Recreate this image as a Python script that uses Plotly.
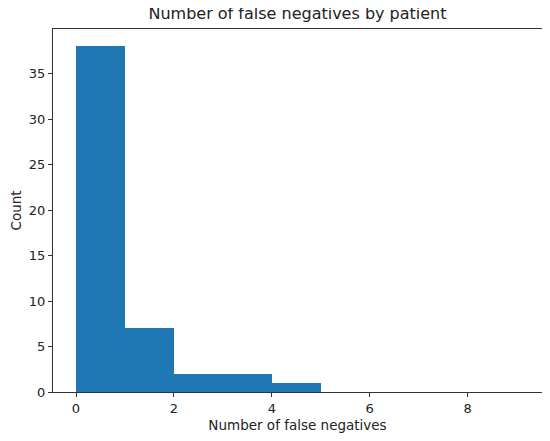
import plotly.graph_objects as go

bin_edges = [0, 1, 2, 3, 4, 5, 6, 7, 8, 9]
counts = [38, 7, 2, 2, 1, 0, 0, 0, 0]
x_ticks = [0, 2, 4, 6, 8]
y_ticks = [0, 5, 10, 15, 20, 25, 30, 35]

centers = [(a + b) / 2 for a, b in zip(bin_edges[:-1], bin_edges[1:])]
widths = [b - a for a, b in zip(bin_edges[:-1], bin_edges[1:])]

font = "DejaVu Sans"
W, H = 542, 433
fig = go.Figure(go.Bar(x=centers, y=counts, width=widths,
                       marker=dict(color="#1f77b4", line=dict(width=0))))

fig.update_layout(
    width=W, height=H,
    margin=dict(l=45, r=8, t=21, b=49),
    paper_bgcolor="white", plot_bgcolor="white",
    bargap=0, showlegend=False,
    font=dict(family=font, size=13, color="#222"),
    title=dict(text="Number of false negatives by patient", x=289.5 / W,
               xanchor="center", xref="container", y=1, yref="container",
               yanchor="top", pad=dict(t=0, b=0, l=0, r=0),
               font=dict(size=16, color="#222", family=font)),
)
fig.update_xaxes(range=[-0.47, 9.52], tickvals=x_ticks, ticks="outside", ticklen=4,
                 tickcolor="#333", showline=True, linecolor="#333", linewidth=1, mirror=True,
                 showgrid=False, zeroline=False, automargin=False,
                 tickfont=dict(size=13),
                 title=dict(text="Number of false negatives", standoff=5, font=dict(size=13.5)))
fig.update_yaxes(range=[0, 39.9], tickvals=y_ticks, ticks="outside", ticklen=4,
                 tickcolor="#333", showline=True, linecolor="#333", linewidth=1, mirror=True,
                 showgrid=False, zeroline=False, automargin=False,
                 tickfont=dict(size=13),
                 title=dict(text="Count", standoff=6, font=dict(size=13.5)))

fig.write_html("out.html")
